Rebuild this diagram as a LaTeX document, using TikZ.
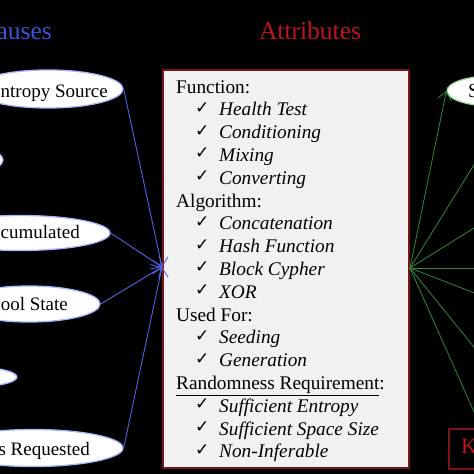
\documentclass[tikz,border=0pt]{standalone}
\usepackage{fontspec}
\setmainfont{Liberation Serif}
\newfontfamily\symfont{DejaVu Sans}
\usetikzlibrary{arrows.meta,shapes.geometric}
\definecolor{causeblue}{HTML}{3A55D8}
\definecolor{attrred}{HTML}{C0141C}
\definecolor{boxred}{HTML}{7A1515}
\definecolor{boxfill}{HTML}{F1F1F1}
\definecolor{lineblue}{HTML}{4F63E6}
\definecolor{glowblue}{HTML}{A8B4FF}
\definecolor{linegreen}{HTML}{2E8B36}
\definecolor{glowgreen}{HTML}{9ADB9A}
\newcommand{\chkmark}{\raisebox{2.5pt}{\makebox[24pt][l]{\symfont\fontsize{17}{17}\selectfont ✓}}}
\begin{document}
\begin{tikzpicture}[x=1pt,y=-1pt,
  titletxt/.style={inner sep=0pt,font=\fontsize{25.5}{26}\selectfont},
  bodytxt/.style={anchor=base west,inner sep=0pt,text=black,font=\fontsize{19.3}{23}\selectfont},
  ovaltxt/.style={anchor=base east,inner sep=0pt,text=black,font=\fontsize{19}{22}\selectfont},
  causeoval/.style={ellipse,fill=white,draw=glowblue,line width=1.3pt,inner sep=0pt},
  effectoval/.style={ellipse,fill=white,draw=glowgreen,line width=1.3pt,inner sep=0pt},
  bluearrow/.style={draw=lineblue,line width=0.9pt,-{Straight Barb[length=8pt,width=16pt]}},
  greenarrow/.style={draw=linegreen,line width=0.8pt,-{Straight Barb[length=8pt,width=14pt]}}
]
\fill[black] (0,0) rectangle (474,474);
\useasboundingbox (0,0) rectangle (474,474);
\clip (0,0) rectangle (474,474);

% titles
\node[titletxt,text=causeblue,anchor=base east] (tc) at (52,39) {Causes};
\node[titletxt,text=attrred,anchor=base] (ta) at (310,39) {Attributes};

% cause ellipses
\node[causeoval,minimum width=150pt,minimum height=38pt] (e1) at (48,89) {};
\node[causeoval,minimum width=126pt,minimum height=34pt] (e2) at (-60,160) {};
\node[causeoval,minimum width=180pt,minimum height=35pt] (e3) at (20,233) {};
\node[causeoval,minimum width=142pt,minimum height=36pt] (e4) at (29,304) {};
\node[causeoval,minimum width=114pt,minimum height=22pt] (e5) at (-40,377) {};
\node[causeoval,minimum width=180pt,minimum height=37pt] (e6) at (33,448) {};
\node[ovaltxt] (t1) at (108,97) {Entropy Source};
\node[ovaltxt] (t3) at (80,238.5) {Accumulated};
\node[ovaltxt] (t4) at (68,310) {Pool State};
\node[ovaltxt] (t6) at (90,455) {Bits Requested};

% effect ellipse (top right)
\node[effectoval,minimum width=90pt,minimum height=30pt] (r1) at (492,91) {};
\node[anchor=base west,inner sep=0pt,font=\fontsize{20}{20}\selectfont] (rt1) at (468,97) {S};

% attribute box
\node[draw=boxred,line width=1.5pt,fill=boxfill,minimum width=246pt,minimum height=398pt,inner sep=0pt] (box) at (286,269) {};

\node[bodytxt] (l1) at (176,93) {Function:};
\node[bodytxt] (l2) at (195,115.8) {\chkmark\textit{Health Test}};
\node[bodytxt] (l3) at (195,138.6) {\chkmark\textit{Conditioning}};
\node[bodytxt] (l4) at (195,161.4) {\chkmark\textit{Mixing}};
\node[bodytxt] (l5) at (195,184.2) {\chkmark\textit{Converting}};
\node[bodytxt] (l6) at (176,207) {Algorithm:};
\node[bodytxt] (l7) at (195,229.8) {\chkmark\textit{Concatenation}};
\node[bodytxt] (l8) at (195,252.6) {\chkmark\textit{Hash Function}};
\node[bodytxt] (l9) at (195,275.4) {\chkmark\textit{Block Cypher}};
\node[bodytxt] (l10) at (195,298.2) {\chkmark\textit{XOR}};
\node[bodytxt] (l11) at (176,321) {Used For:};
\node[bodytxt] (l12) at (195,343.8) {\chkmark\textit{Seeding}};
\node[bodytxt] (l13) at (195,366.6) {\chkmark\textit{Generation}};
\node[bodytxt] (l14) at (176,389.4) {\underline{Randomness Requirement}:};
\node[bodytxt] (l15) at (195,412.2) {\chkmark\textit{Sufficient Entropy}};
\node[bodytxt] (l16) at (195,435) {\chkmark\textit{Sufficient Space Size}};
\node[bodytxt] (l17) at (195,457.8) {\chkmark\textit{Non-Inferable}};

% convergence points
\coordinate (apexL) at (162,267);
\coordinate (apexR) at (410,268);
\coordinate (g2) at (490,139);
\coordinate (g3) at (490,218);
\coordinate (g4) at (490,268);
\coordinate (g5) at (490,299);
\coordinate (g6) at (490,367);
\coordinate (g7) at (491,450);

% blue arrows
\draw[bluearrow] (e1.east) -- (apexL);
\draw[bluearrow] (e3.east) -- (apexL);
\draw[bluearrow] (e4.east) -- (apexL);
\draw[bluearrow] (e6.east) -- (apexL);

% green arrows
\draw[greenarrow] (apexR) -- (r1.west);
\draw[greenarrow] (apexR) -- (g2);
\draw[greenarrow] (apexR) -- (g3);
\draw[greenarrow] (apexR) -- (g4);
\draw[greenarrow] (apexR) -- (g5);
\draw[greenarrow] (apexR) -- (g6);
\draw[greenarrow] (apexR) -- (g7);

% key box
\node[draw=boxred,line width=1.5pt,fill=black,minimum width=50pt,minimum height=40pt,anchor=north west] (kbox) at (448,428) {};
\node[anchor=base west,inner sep=0pt,text=attrred,font=\fontsize{22}{22}\selectfont] (kt) at (461,453) {K};
\end{tikzpicture}
\end{document}
